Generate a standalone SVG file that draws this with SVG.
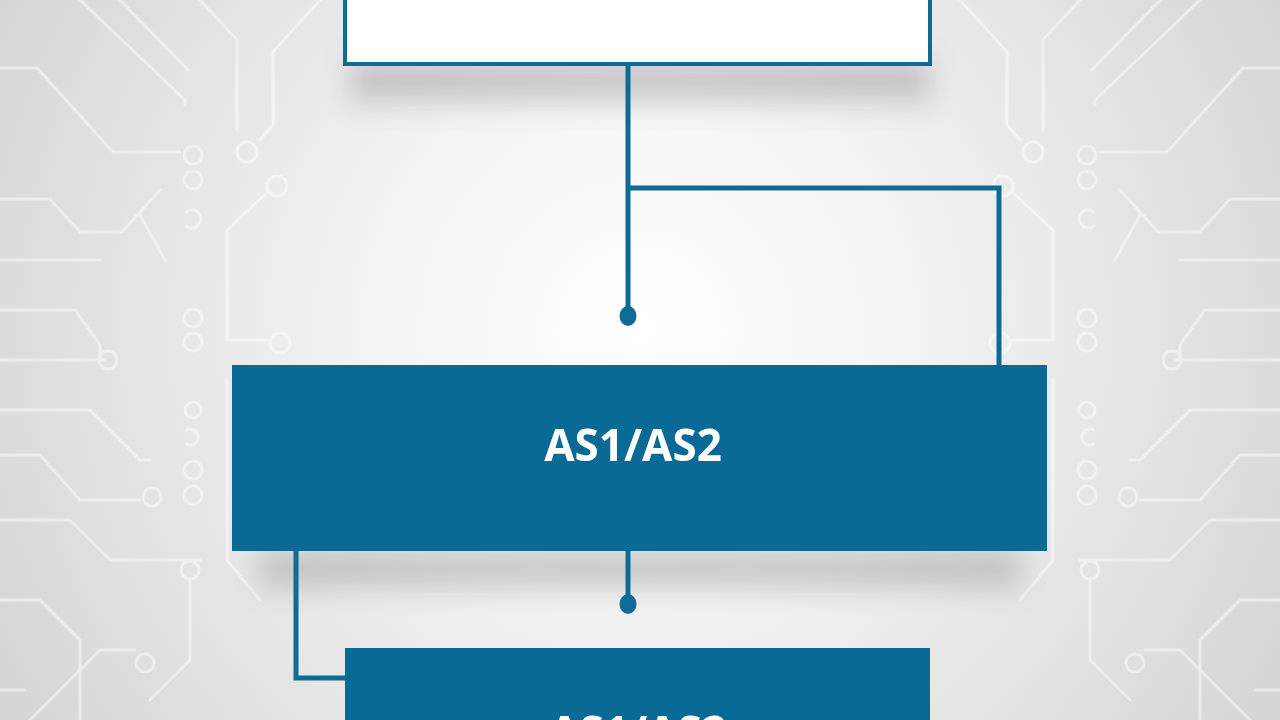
<svg xmlns="http://www.w3.org/2000/svg" xmlns:xlink="http://www.w3.org/1999/xlink" width="1280" height="720" viewBox="0 0 1280 720">
  <defs>
    <radialGradient id="bg" cx="640" cy="330" r="720" gradientUnits="userSpaceOnUse">
      <stop offset="0" stop-color="#ffffff"/>
      <stop offset="0.35" stop-color="#f4f4f4"/>
      <stop offset="0.75" stop-color="#e2e2e2"/>
      <stop offset="1" stop-color="#d6d6d6"/>
    </radialGradient>
    <filter id="blur" x="-20%" y="-100%" width="140%" height="300%">
      <feGaussianBlur stdDeviation="14"/>
    </filter>
    <g id="traces" fill="none" stroke="#ffffff" stroke-width="3" stroke-linejoin="round" stroke-linecap="round">
      <path d="M0 68 H37 L113 152 H180"/>
      <circle cx="193" cy="155" r="9"/>
      <circle cx="193" cy="180" r="9"/>
      <path d="M186 212 a9 9 0 1 1 0 14"/>
      <path d="M0 199 H50 L80 232 H122 L160 190"/>
      <path d="M0 260 H100"/>
      <path d="M0 310 H75 L100 345 V360"/>
      <path d="M140 215 L165 260"/>
      <path d="M80 0 L185 100 V105"/>
      <path d="M120 0 L188 70"/>
      <path d="M200 0 L237 40 V130"/>
      <circle cx="247" cy="152" r="10"/>
      <path d="M320 0 L273 52 V125 L260 140"/>
      <circle cx="277" cy="186" r="10"/>
      <path d="M268 192 L227 230 V340 H268"/>
      <circle cx="280" cy="343" r="10"/>
      <circle cx="193" cy="318" r="9"/>
      <circle cx="193" cy="342" r="9"/>
      <circle cx="193" cy="410" r="8"/>
      <path d="M186 430 a8 8 0 1 1 0 14"/>
      <circle cx="193" cy="470" r="9"/>
      <circle cx="193" cy="495" r="9"/>
      <path d="M0 360 H60 L105 360"/>
      <circle cx="108" cy="360" r="9"/>
      <path d="M0 410 H90 L140 460 H150"/>
      <circle cx="152" cy="497" r="9"/>
      <path d="M0 455 H40 L80 500 H140"/>
      <path d="M0 520 H70 L110 560 H200"/>
      <path d="M0 600 H40 L80 640 V720"/>
      <circle cx="190" cy="570" r="9"/>
      <path d="M190 580 V660 L150 700"/>
      <circle cx="145" cy="663" r="9"/>
      <path d="M30 720 L100 650 H135"/>
      <path d="M227 380 V560 L260 600"/>
      <path d="M0 690 H25"/>
    </g>
  </defs>
  <style>
    .box { fill: #0a6a96; }
    .wire { fill: none; stroke: #0f6b93; stroke-width: 5; }
    .dot { fill: #0f6b93; }
    .label { font-family: "Open Sans", "Liberation Sans", sans-serif; font-weight: 700; font-size: 44px; fill: #ffffff; text-anchor: middle; }
  </style>

  <rect x="0" y="0" width="1280" height="720" fill="url(#bg)"/>
  <g opacity="0.5">
    <use xlink:href="#traces"/>
    <use xlink:href="#traces" transform="translate(1280,0) scale(-1,1)"/>
  </g>

  <!-- shadows -->
  <rect x="350" y="58" width="580" height="44" fill="#8a8a8a" opacity="0.4" filter="url(#blur)"/>
  <rect x="260" y="548" width="760" height="40" fill="#8a8a8a" opacity="0.4" filter="url(#blur)"/>

  <g id="connectors">
    <path class="wire" d="M628 66 V316"/>
    <path class="wire" d="M628 188 H999 V366"/>
    <ellipse class="dot" cx="628" cy="316" rx="8.5" ry="10"/>
    <path class="wire" d="M628 550 V604"/>
    <ellipse class="dot" cx="628" cy="604" rx="8.5" ry="10"/>
    <path class="wire" stroke-width="6" d="M296 550 V678 H346"/>
  </g>

  <g id="node-top">
    <rect x="345" y="-10" width="585" height="74" fill="#ffffff" stroke="#0f6b93" stroke-width="4"/>
  </g>

  <g id="node-as1as2">
    <rect class="box" x="232" y="365" width="815" height="186"/>
    <text class="label" x="633" y="461">AS1/AS2</text>
  </g>

  <g id="node-bottom">
    <rect class="box" x="345" y="648" width="585" height="186"/>
    <text class="label" x="638" y="748">AS1/AS2</text>
  </g>
</svg>
